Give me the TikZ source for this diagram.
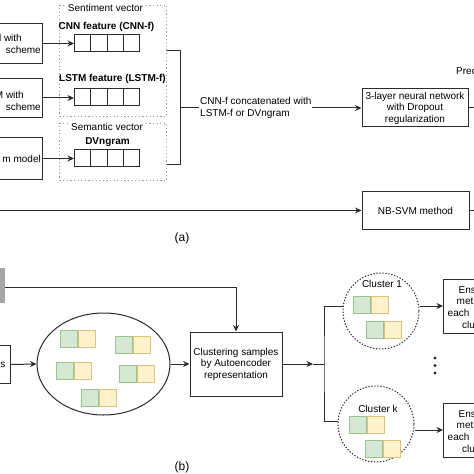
\documentclass[tikz,border=0pt]{standalone}
\usepackage{fontspec}
\setmainfont{Liberation Sans}
\usetikzlibrary{arrows.meta,shapes.geometric,calc}
\definecolor{ln}{HTML}{2B2B2B}
\definecolor{gf}{HTML}{D5E8D4}
\definecolor{gd}{HTML}{9CC38E}
\definecolor{yf}{HTML}{FFF2CC}
\definecolor{yd}{HTML}{DCC27A}
\definecolor{dotc}{HTML}{9A9A9A}
\newcommand\mypair[3]{%
  \node[gcell,anchor=north west] (#1g) at (#2,#3) {};
  \node[ycell,anchor=west] (#1y) at (#1g.east) {};}
\begin{document}
\begin{tikzpicture}[x=1bp,y=-1bp,
  font=\fontsize{10bp}{11.5bp}\selectfont,
  box/.style={draw=ln, line width=1bp, rectangle, inner sep=2bp, align=center},
  arr/.style={draw=ln, line width=1bp, -{Stealth[length=6.5bp,width=6bp]}},
  plain/.style={draw=ln, line width=1bp},
  cell/.style={draw=ln, line width=1bp, minimum width=16.25bp, minimum height=17bp, inner sep=0},
  grp/.style={draw=dotc, line width=1bp, dash pattern=on 1.2bp off 2.4bp, inner sep=0},
  gcell/.style={draw=gd, fill=gf, line width=0.8bp, minimum width=17bp, minimum height=17bp, inner sep=0},
  ycell/.style={draw=yd, fill=yf, line width=0.8bp, minimum width=17bp, minimum height=17bp, inner sep=0},
  txt/.style={inner sep=0},
  clus/.style={draw=ln, line width=1bp, dash pattern=on 1.3bp off 1.7bp, circle, minimum size=76bp, inner sep=0},
  figcap/.style={inner sep=0, font=\fontsize{12bp}{14bp}\selectfont}
]
\useasboundingbox (0,0) rectangle (474,474);
\clip (0,0) rectangle (474,474);
\fill[white] (0,0) rectangle (474,474);

% ---------------- (a) ----------------
\node[box, anchor=north east, minimum width=100bp, minimum height=40bp] (m1) at (43,23) {};
\node[txt, anchor=east] (m1a) at (22,38) {l with};
\node[txt, anchor=east] (m1b) at (41,49.5) {scheme};
\node[box, anchor=north east, minimum width=100bp, minimum height=39bp] (m2) at (43,78) {};
\node[txt, anchor=east] (m2a) at (24,95) {M with};
\node[txt, anchor=east] (m2b) at (41,106.5) {scheme};
\node[box, anchor=north east, minimum width=100bp, minimum height=42bp] (m3) at (43,137) {};
\node[txt, anchor=east] (m3a) at (41,158.5) {m model};

\node[grp, anchor=north west, minimum width=107bp, minimum height=111bp] (sv) at (59,5) {};
\node[fill=white, inner sep=1.5bp] (svl) at (105.5,8) {Sentiment vector};
\node[grp, anchor=north west, minimum width=107bp, minimum height=57bp] (smv) at (59,123) {};
\node[fill=white, inner sep=1.5bp] (smvl) at (107,126.5) {Semantic vector};

\node[txt] (cnnl) at (106.5,27) {\textbf{CNN feature (CNN-f)}};
\node[txt] (lstml) at (112.5,78.5) {\textbf{LSTM feature (LSTM-f)}};
\node[txt] (dvl) at (107.5,142.5) {\textbf{DVngram}};

\foreach \r/\yy in {1/34,2/88,3/149}{
  \foreach \i in {1,...,4}{
    \node[cell, anchor=north west] (c\r\i) at ({74+(\i-1)*16.25},\yy) {};
  }
}
\draw[arr] (m1.east) -- (m1.east -| c11.west);
\draw[arr] (m2.east) -- (m2.east -| c21.west);
\draw[arr] (m3.east) -- (m3.east -| c31.west);

\coordinate (br1) at (180,51);
\coordinate (br2) at (180,165);
\coordinate (brm) at (180,108);
\draw[plain] (sv.east |- br1) -- (br1) -- (br2) -- (smv.east |- br2);
\node[box, minimum width=106bp, minimum height=38bp] (nn) at (415,108) {3-layer neural network\\with Dropout\\regularization};
\draw[arr] (brm) -- (nn.west);
\node[fill=white, align=left, inner sep=1bp, anchor=west, font=\fontsize{10bp}{12bp}\selectfont] (cl) at (199,107.5) {CNN-f concatenated with\\LSTM-f or DVngram};
\coordinate (nnout) at (480,108);
\draw[plain] (nn.east) -- (nnout);
\node[txt, anchor=west] (pred) at (456,71) {Pred};

\node[box, minimum width=107bp, minimum height=37bp] (svm) at (415.5,210.5) {NB-SVM method};
\coordinate (svmin) at (-5,210.5);
\draw[arr] (svmin) -- (svm.west);
\coordinate (svmout) at (480,210.5);
\draw[plain] (svm.east) -- (svmout);

\node[figcap] (capa) at (182,238) {(a)};

% ---------------- (b) ----------------
\node[fill=gray!70, inner sep=0, minimum width=5bp, minimum height=35bp, anchor=north west] (bar) at (0,268) {};
\coordinate (barout) at (5,287);

\node[box, anchor=north east, minimum width=60bp, minimum height=38bp] (sbox) at (11,345) {};
\node[txt, anchor=east] (st) at (5.5,365) {s};

\node[draw=ln, line width=1bp, ellipse, minimum width=133bp, minimum height=102bp, inner sep=0] (pool) at (103.5,364) {};
\mypair{p1}{60}{330}
\mypair{p2}{115}{336}
\mypair{p3}{56}{362}
\mypair{p4}{119}{365}
\mypair{p5}{81}{389}

\node[box, minimum width=92bp, minimum height=64bp] (clu) at (236,364) {Clustering samples\\by Autoencoder\\representation};
\draw[arr] (barout) -| (clu.north);
\draw[arr] (sbox.east) -- (pool.west);
\draw[arr] (pool.east) -- (clu.west);

\node[clus] (k1) at (381,311) {};
\node[txt] (k1l) at (382,284) {Cluster 1};
\mypair{q1}{353}{296}
\mypair{q2}{366}{321}
\node[clus] (kk) at (376,424) {};
\node[txt] (kkl) at (378,409) {Cluster k};
\mypair{r1}{349}{416}
\mypair{r2}{365}{440}

\coordinate (jt) at (313,364);
\coordinate (j) at (324,364);
\draw[arr] (clu.east) -- (jt);
\draw[plain] (jt) -- (j);
\draw[plain] (k1.174) -| (j) |- (kk.177);

\node[box, anchor=west, minimum width=80bp, minimum height=54bp] (en1) at (443,306) {};
\node[box, anchor=west, minimum width=80bp, minimum height=54bp] (en2) at (443,430) {};
\draw[arr] (en1.west -| k1.east) -- (en1.west);
\draw[arr] (en2.west -| kk.east) -- (en2.west);
\node[txt, anchor=west] (e1a) at (458.5,290) {Ens};
\node[txt, anchor=west] (e1b) at (456.5,301.5) {met};
\node[txt, anchor=west] (e1c) at (447.5,313) {each};
\node[txt, anchor=west] (e1d) at (462,324.5) {clu};
\node[txt, anchor=west] (e2a) at (458.5,414) {Ens};
\node[txt, anchor=west] (e2b) at (456.5,425.5) {met};
\node[txt, anchor=west] (e2c) at (447.5,437) {each};
\node[txt, anchor=west] (e2d) at (462,448.5) {clu};

\fill[ln] (435,358) circle (1.7bp);
\fill[ln] (435,365.5) circle (1.7bp);
\fill[ln] (435,373) circle (1.7bp);

\node[figcap] (capb) at (182,467) {(b)};
\end{tikzpicture}
\end{document}
